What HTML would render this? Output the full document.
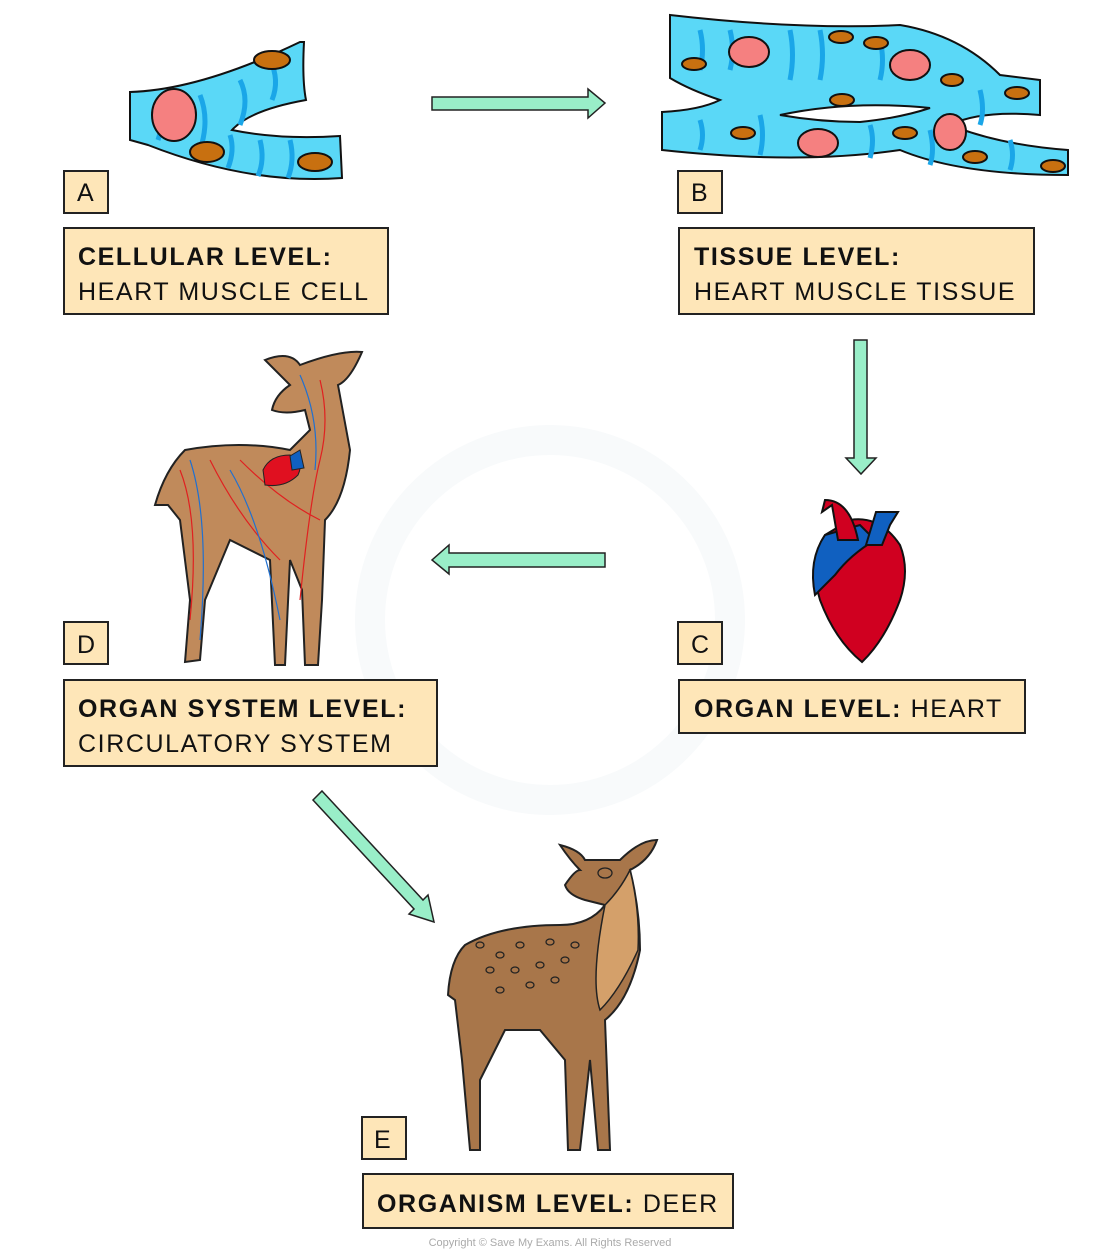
<!DOCTYPE html>
<html><head><meta charset="utf-8"><style>
body{margin:0;background:#fff;}
svg{display:block}
.t{font-family:"Liberation Sans",sans-serif;font-size:25px;letter-spacing:1.6px;fill:#111}
.b{font-weight:bold}
</style></head><body>
<svg width="1101" height="1253" viewBox="0 0 1101 1253" xmlns="http://www.w3.org/2000/svg">
<circle cx="550" cy="620" r="180" fill="none" stroke="#f8fafb" stroke-width="30"/>
<!-- Cell A -->
<path d="M130 92 Q200 90 300 42 L304 42 Q302 80 306 100 Q250 110 232 130 Q280 140 340 136 L342 178 Q250 185 148 145 L130 140 Z" fill="#5ad8f7" stroke="#111" stroke-width="2"/>
<g stroke="#1aa6e8" stroke-width="5" fill="none">
<path d="M160 100 Q165 120 158 140"/><path d="M200 95 Q210 120 200 150"/><path d="M240 80 Q250 100 240 125"/><path d="M270 60 Q280 80 272 100"/><path d="M290 140 Q295 160 288 178"/><path d="M260 140 Q265 160 258 176"/><path d="M230 135 Q235 150 228 168"/>
</g>
<ellipse cx="174" cy="115" rx="22" ry="26" fill="#f58080" stroke="#111" stroke-width="2"/>
<ellipse cx="272" cy="60" rx="18" ry="9" fill="#c87010" stroke="#111" stroke-width="2"/>
<ellipse cx="207" cy="152" rx="17" ry="10" fill="#c87010" stroke="#111" stroke-width="2"/>
<ellipse cx="315" cy="162" rx="17" ry="9" fill="#c87010" stroke="#111" stroke-width="2"/>
<!-- Tissue B -->
<path d="M670 15 Q800 30 900 25 Q960 35 1000 75 L1040 80 L1040 115 Q980 110 950 125 Q1000 145 1068 150 L1068 175 Q960 175 900 150 Q800 165 662 150 L662 112 Q700 110 720 100 Q690 90 670 78 Z" fill="#5ad8f7" stroke="#111" stroke-width="2"/>
<path d="M780 115 Q850 100 930 108 Q900 118 860 122 Q820 122 780 115Z" fill="#fff" stroke="#111" stroke-width="2"/>
<g stroke="#1aa6e8" stroke-width="5" fill="none">
<path d="M700 30 Q705 50 700 70"/><path d="M730 30 Q735 50 730 70"/><path d="M790 30 Q795 55 790 80"/><path d="M820 30 Q825 55 820 80"/><path d="M880 40 Q885 60 880 80"/><path d="M700 120 Q705 135 700 150"/><path d="M760 115 Q765 135 760 155"/><path d="M870 125 Q875 140 870 158"/><path d="M980 90 Q985 110 980 125"/><path d="M1010 140 Q1015 155 1010 170"/><path d="M930 130 Q935 150 930 165"/>
</g>
<ellipse cx="749" cy="52" rx="20" ry="15" fill="#f58080" stroke="#111" stroke-width="2"/>
<ellipse cx="910" cy="65" rx="20" ry="15" fill="#f58080" stroke="#111" stroke-width="2"/>
<ellipse cx="818" cy="143" rx="20" ry="14" fill="#f58080" stroke="#111" stroke-width="2"/>
<ellipse cx="950" cy="132" rx="16" ry="18" fill="#f58080" stroke="#111" stroke-width="2"/>
<g fill="#c87010" stroke="#111" stroke-width="2">
<ellipse cx="694" cy="64" rx="12" ry="6"/><ellipse cx="841" cy="37" rx="12" ry="6"/><ellipse cx="876" cy="43" rx="12" ry="6"/><ellipse cx="952" cy="80" rx="11" ry="6"/><ellipse cx="842" cy="100" rx="12" ry="6"/><ellipse cx="1017" cy="93" rx="12" ry="6"/><ellipse cx="743" cy="133" rx="12" ry="6"/><ellipse cx="905" cy="133" rx="12" ry="6"/><ellipse cx="975" cy="157" rx="12" ry="6"/><ellipse cx="1053" cy="166" rx="12" ry="6"/>
</g>
<g fill="#99eec8" stroke="#222" stroke-width="1.5">
<path d="M432 97 L588 97 L588 89 L605 103 L588 118 L588 110 L432 110 Z"/>
<path d="M854 340 L867 340 L867 458 L876 458 L861 474 L846 458 L854 458 Z"/>
<path d="M605 553 L449 553 L449 545 L432 560 L449 574 L449 567 L605 567 Z"/>
<path d="M322 791 L423 900 L428 895 L434 922 L409 914 L414 909 L313 800 Z"/>
</g>
<!-- Heart C -->
<path d="M820 600 Q808 560 825 535 L850 520 Q880 515 900 545 Q910 570 900 600 Q885 640 862 662 Q835 640 820 600Z" fill="#d00020" stroke="#111" stroke-width="2"/>
<path d="M815 595 Q808 560 825 535 L860 525 L875 540 Q850 555 835 575 Z" fill="#1060c0" stroke="#111" stroke-width="2"/>
<path d="M838 540 L832 505 L822 512 L825 500 Q850 500 858 540 Z" fill="#d00020" stroke="#111" stroke-width="2"/>
<path d="M866 545 L876 512 L898 512 L890 525 L882 545Z" fill="#1060c0" stroke="#111" stroke-width="2"/>
<!-- Deer D -->
<path d="M265 360 Q290 350 300 365 Q340 350 362 352 Q350 380 338 385 L350 450 Q345 500 325 520 L322 600 L318 665 L305 665 L302 590 L290 560 L285 665 L275 665 L270 560 L230 540 L205 600 L200 660 L185 662 L190 600 L180 520 L168 505 L155 505 Q165 470 185 450 Q240 440 290 450 L310 430 L305 410 Q285 415 272 410 Q275 395 290 385 Z" fill="#c08a5b" stroke="#222" stroke-width="2"/>
<g fill="none" stroke="#e02020" stroke-width="1.2"><path d="M180 470 Q200 520 190 620"/><path d="M210 460 Q240 520 280 560"/><path d="M320 380 Q330 420 320 460 Q310 500 300 600"/><path d="M240 460 Q280 500 320 520"/></g>
<g fill="none" stroke="#2070d0" stroke-width="1.2"><path d="M190 460 Q210 520 200 640"/><path d="M300 375 Q320 420 315 470"/><path d="M230 470 Q260 520 280 620"/></g>
<path d="M263 470 Q270 455 290 455 Q305 460 298 475 Q285 488 265 485Z" fill="#e01020" stroke="#222"/>
<path d="M290 456 L300 450 L304 468 L292 470Z" fill="#1060c0" stroke="#222"/>
<!-- Deer E -->
<path d="M560 845 Q580 850 585 860 L620 860 Q640 840 657 840 Q650 860 630 870 Q640 910 640 950 Q630 1000 605 1020 L610 1150 L598 1150 L590 1060 L580 1150 L568 1150 L565 1060 L540 1030 L505 1030 L480 1080 L480 1150 L470 1150 L462 1060 L455 1000 L448 995 Q450 960 465 945 Q500 925 560 925 Q590 925 605 905 L585 900 Q568 895 565 885 Q575 870 580 870 Q570 860 560 845Z" fill="#a8764a" stroke="#222" stroke-width="2"/>
<path d="M605 905 Q620 890 630 870 Q640 910 638 950 Q620 990 600 1010 Q590 980 605 905Z" fill="#d4a06a" stroke="#222" stroke-width="1.5"/>
<g fill="none" stroke="#222" stroke-width="1.3">
<ellipse cx="480" cy="945" rx="4" ry="3"/><ellipse cx="500" cy="955" rx="4" ry="3"/><ellipse cx="520" cy="945" rx="4" ry="3"/><ellipse cx="550" cy="942" rx="4" ry="3"/><ellipse cx="490" cy="970" rx="4" ry="3"/><ellipse cx="515" cy="970" rx="4" ry="3"/><ellipse cx="540" cy="965" rx="4" ry="3"/><ellipse cx="565" cy="960" rx="4" ry="3"/><ellipse cx="500" cy="990" rx="4" ry="3"/><ellipse cx="530" cy="985" rx="4" ry="3"/><ellipse cx="555" cy="980" rx="4" ry="3"/><ellipse cx="575" cy="945" rx="4" ry="3"/><ellipse cx="605" cy="873" rx="7" ry="5"/>
</g>
<g fill="#fee6b8" stroke="#222" stroke-width="2">
<rect x="64" y="171" width="44" height="42"/><rect x="64" y="228" width="324" height="86"/>
<rect x="678" y="171" width="44" height="42"/><rect x="679" y="228" width="355" height="86"/>
<rect x="678" y="622" width="44" height="42"/><rect x="679" y="680" width="346" height="53"/>
<rect x="64" y="622" width="44" height="42"/><rect x="64" y="680" width="373" height="86"/>
<rect x="362" y="1117" width="44" height="42"/><rect x="363" y="1174" width="370" height="54"/>
</g>
<g class="t">
<text x="77" y="201">A</text><text x="691" y="201">B</text><text x="691" y="653">C</text><text x="77" y="653">D</text><text x="374" y="1148">E</text>
<text x="78" y="265" class="b">CELLULAR  LEVEL:</text><text x="78" y="300">HEART MUSCLE  CELL</text>
<text x="694" y="265" class="b">TISSUE  LEVEL:</text><text x="694" y="300">HEART MUSCLE  TISSUE</text>
<text x="694" y="717"><tspan class="b">ORGAN  LEVEL:</tspan> HEART</text>
<text x="78" y="717" class="b">ORGAN  SYSTEM  LEVEL:</text><text x="78" y="752">CIRCULATORY  SYSTEM</text>
<text x="377" y="1212"><tspan class="b">ORGANISM  LEVEL:</tspan> DEER</text>
</g>
<text x="550" y="1246" text-anchor="middle" font-family="Liberation Sans,sans-serif" font-size="11" fill="#aaa">Copyright © Save My Exams. All Rights Reserved</text>
</svg>
</body></html>
